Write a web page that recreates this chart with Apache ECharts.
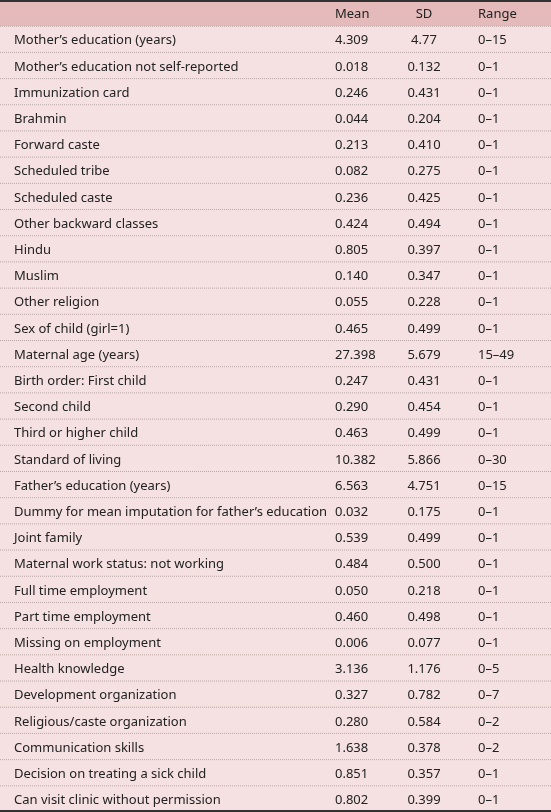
<!DOCTYPE html>
<html><head><meta charset="utf-8">
<script src="https://cdn.jsdelivr.net/npm/echarts@6/dist/echarts.min.js"></script>
<style>html,body{margin:0;padding:0;background:#f5e1e1}#c{width:551px;height:812px}</style>
</head><body><div id="c"></div>
<script>
const headers = ["", "Mean", "SD", "Range"];
const variables = ["Mother's education (years)","Mother's education not self-reported","Immunization card","Brahmin","Forward caste","Scheduled tribe","Scheduled caste","Other backward classes","Hindu","Muslim","Other religion","Sex of child (girl=1)","Maternal age (years)","Birth order: First child","Second child","Third or higher child","Standard of living","Father's education (years)","Dummy for mean imputation for father's education","Joint family","Maternal work status: not working","Full time employment","Part time employment","Missing on employment","Health knowledge","Development organization","Religious/caste organization","Communication skills","Decision on treating a sick child","Can visit clinic without permission"];
const means = ["4.309","0.018","0.246","0.044","0.213","0.082","0.236","0.424","0.805","0.140","0.055","0.465","27.398","0.247","0.290","0.463","10.382","6.563","0.032","0.539","0.484","0.050","0.460","0.006","3.136","0.327","0.280","1.638","0.851","0.802"];
const sds = ["4.77","0.132","0.431","0.204","0.410","0.275","0.425","0.494","0.397","0.347","0.228","0.499","5.679","0.431","0.454","0.499","5.866","4.751","0.175","0.499","0.500","0.218","0.498","0.077","1.176","0.782","0.584","0.378","0.357","0.399"];
const ranges = ["0–15","0–1","0–1","0–1","0–1","0–1","0–1","0–1","0–1","0–1","0–1","0–1","15–49","0–1","0–1","0–1","0–30","0–15","0–1","0–1","0–1","0–1","0–1","0–1","0–5","0–7","0–2","0–2","0–1","0–1"];

const rows = [headers].concat(variables.map((v,i)=>[v.replace(/'/g,'’'),means[i],sds[i],ranges[i]]));
const cats = rows.map((r,i)=>String(i));
const chart = echarts.init(document.getElementById('c'));
const colX = [14, 335, 424, 478];
const colAlign = ['left','left','center','left'];
chart.setOption({
  animation:false,
  grid:{left:0,right:0,top:0,bottom:0},
  xAxis:{type:'value',min:0,max:551,show:false},
  yAxis:{type:'category',data:cats,inverse:true,show:false},
  series:[{
    type:'custom',
    data:rows.map((r,i)=>[i].concat(r)),
    encode:{y:0},
    renderItem:function(params,api){
      const i=api.value(0);
      const c=api.coord([0,i]);
      const h=api.size([0,1])[1];
      const top=c[1]-h/2, W=551;
      const ty = i===0 ? c[1]+1 : c[1]+1.5;
      const children=[{type:'rect',shape:{x:0,y:top,width:W,height:h},style:{fill:i===0?'#e4baba':'#f5e1e1'}}];
      for(let k=0;k<4;k++){
        children.push({type:'text',style:{text:rows[i][k],x:colX[k],y:ty,textAlign:colAlign[k],textVerticalAlign:'middle',font:'13px "Noto Sans"',fill:'#222'}});
      }
      if(i===0){
        children.push({type:'line',shape:{x1:0,y1:top+1,x2:W,y2:top+1},style:{stroke:'#333',lineWidth:2}});
      } else {
        children.push({type:'line',shape:{x1:0,y1:top,x2:W,y2:top},style:{stroke:'#b9a6a6',lineWidth:1,lineDash:[1,1]}});
      }
      if(i===rows.length-1){
        children.push({type:'line',shape:{x1:0,y1:top+h-1,x2:W,y2:top+h-1},style:{stroke:'#333',lineWidth:2}});
      }
      return {type:'group',children:children};
    }
  }]
});
</script></body></html>
